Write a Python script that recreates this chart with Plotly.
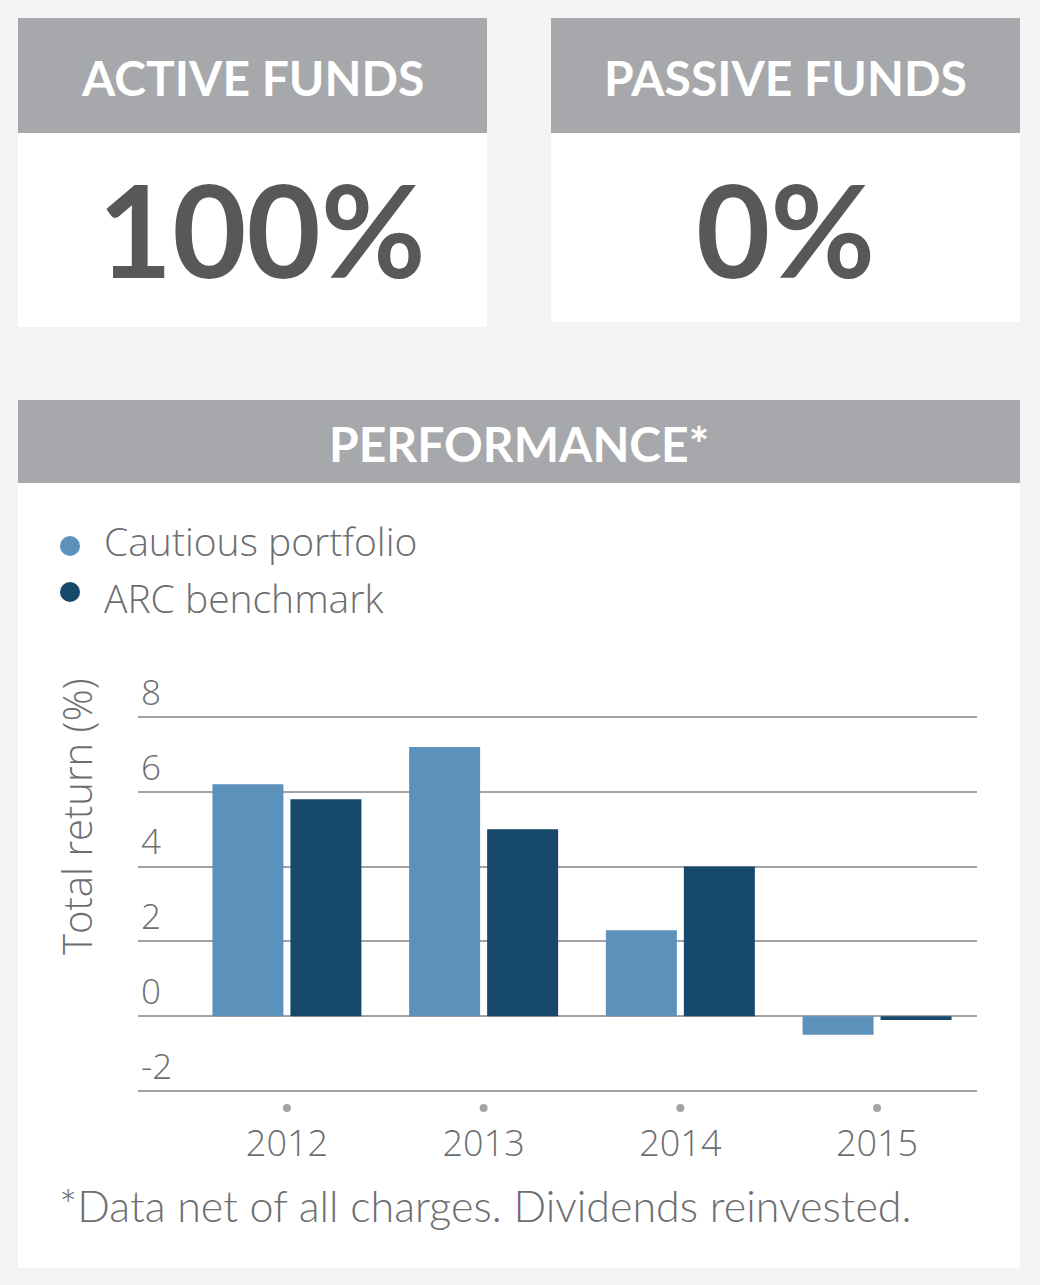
import plotly.graph_objects as go

W, H = 1040, 1285

years = ["2012", "2013", "2014", "2015"]
cautious = [6.2, 7.2, 2.3, -0.5]
arc = [5.8, 5.0, 4.0, -0.1]
series_names = ["Cautious portfolio", "ARC benchmark"]
series_colors = ["#5c91bb", "#16486c"]
ytick_vals = [-2, 0, 2, 4, 6, 8]
ytick_text = ["-2", "0", "2", "4", "6", "8"]
active_label, active_value = "ACTIVE FUNDS", "100%"
passive_label, passive_value = "PASSIVE FUNDS", "0%"
perf_title = "PERFORMANCE*"
y_title = "Total return (%)"
footnote = "*Data net of all charges. Dividends reinvested."

BG = "#f4f2f3"
HEAD = "#a7a8ab"
TXT = "#6d6e71"
BIG = "#58585a"
GRID = "#a3a3a5"
LIGHT = "Open Sans"


def py(p):
    return 1 - p / H


def px(p):
    return p / W


fig = go.Figure()

fig.add_trace(go.Bar(x=years, y=cautious, name=series_names[0],
                     marker=dict(color=series_colors[0], line=dict(width=0)),
                     showlegend=False))
fig.add_trace(go.Bar(x=years, y=arc, name=series_names[1],
                     marker=dict(color=series_colors[1], line=dict(width=0)),
                     showlegend=False))
# category tick dots on a thin helper axis below the plot
fig.add_trace(go.Scatter(x=years, y=[0] * len(years), mode="markers",
                         xaxis="x", yaxis="y2",
                         marker=dict(color=GRID, size=8), cliponaxis=False,
                         showlegend=False, hoverinfo="skip"))

shapes = []


def rect(x0, y0, x1, y1, color):
    shapes.append(dict(type="rect", xref="paper", yref="paper",
                       x0=px(x0), x1=px(x1), y0=py(y1), y1=py(y0),
                       fillcolor=color, line=dict(width=0), layer="below"))


rect(18, 18, 487, 133, HEAD)
rect(18, 133, 487, 327, "white")
rect(551, 18, 1020, 133, HEAD)
rect(551, 133, 1020, 322, "white")
rect(18, 400, 1020, 483, HEAD)
rect(18, 483, 1020, 1268, "white")

# legend dots
for i, c in enumerate(series_colors):
    yc = 546 + 46 * i
    shapes.append(dict(type="circle", xref="paper", yref="paper",
                       x0=px(60), x1=px(80), y0=py(yc + 10), y1=py(yc - 10),
                       fillcolor=c, line=dict(width=0)))

annotations = []


def text(x, y, s, size, color, bold=False, xanchor="center", angle=0,
         family="Lato", weight=None, yanchor="middle"):
    f = dict(size=size, color=color, family=family)
    if weight is not None:
        f["weight"] = weight
    annotations.append(dict(x=px(x), y=py(y), xref="paper", yref="paper",
                            text=f"<b>{s}</b>" if bold else s, showarrow=False,
                            xanchor=xanchor, yanchor=yanchor, textangle=angle,
                            borderpad=0, font=f))


text(252, 77, active_label, 48, "white", bold=True)
text(785, 77, passive_label, 48, "white", bold=True)
text(262, 228, active_value, 128, BIG, bold=True)
text(785, 228, passive_value, 128, BIG, bold=True)
text(519, 443, perf_title, 48, "white", bold=True)
# legend entries: boxes meet at the midpoint between the two rows
text(103, 568, series_names[0], 39, TXT, xanchor="left", family=LIGHT,
     weight=300, yanchor="bottom")
text(103, 570, series_names[1], 39, TXT, xanchor="left", family=LIGHT,
     weight=300, yanchor="top")
text(76, 817, y_title, 40, TXT, angle=-90, family=LIGHT, weight=300)
text(58, 1205, footnote, 43, TXT, xanchor="left", weight=300)

fig.update_layout(
    width=W, height=H,
    margin=dict(l=0, r=0, t=0, b=0, autoexpand=False),
    paper_bgcolor=BG, plot_bgcolor="rgba(0,0,0,0)",
    barmode="group", bargap=0.207, bargroupgap=0.09,
    shapes=shapes, annotations=annotations,
    xaxis=dict(domain=[px(138), px(977)], range=[-0.757, 3.508],
               anchor="y", automargin=False,
               showgrid=False, zeroline=False, showline=False,
               ticks="", ticklabelstandoff=24,
               tickfont=dict(size=36, color=TXT, family=LIGHT, weight=300)),
    yaxis=dict(domain=[py(1094.7), py(713.3)], range=[-2.1, 8.1],
               automargin=False,
               tickvals=ytick_vals, ticktext=ytick_text,
               ticklabelposition="inside top", ticklabeloverflow="allow",
               showgrid=True, gridcolor=GRID, gridwidth=2,
               zeroline=True, zerolinecolor=GRID, zerolinewidth=2,
               showline=False,
               tickfont=dict(size=35, color=TXT, family=LIGHT, weight=300)),
    yaxis2=dict(domain=[py(1116), py(1100)], range=[-1, 1], anchor="free",
                position=0, visible=False, automargin=False, fixedrange=True),
    font=dict(family="Lato"),
)

fig.write_html("out.html")
